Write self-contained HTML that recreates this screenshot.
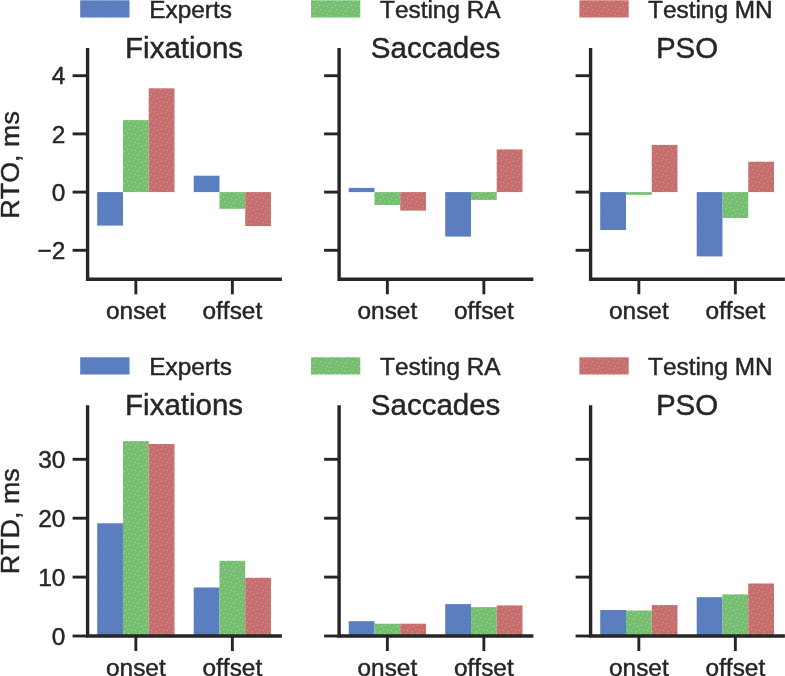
<!DOCTYPE html>
<html lang="en">
<head>
<meta charset="utf-8">
<title>RTO / RTD bar charts</title>
<style>
html,body{margin:0;padding:0;background:#fff;}
body{width:785px;height:676px;overflow:hidden;}
svg{display:block;}
svg text{font-family:"Liberation Sans",sans-serif;fill:#262626;stroke:#262626;stroke-width:0.45px;font-kerning:none;font-feature-settings:"kern" 0;}
</style>
</head>
<body>
<svg width="785" height="676" viewBox="0 0 785 676">
<rect x="0" y="0" width="785" height="676" fill="#ffffff"/>
<defs>
<pattern id="spk" patternUnits="userSpaceOnUse" width="16" height="16">
<g fill="#ffffff">
<rect x="1" y="1" width="1" height="1"/><rect x="5" y="0" width="1" height="1"/><rect x="9" y="3" width="1" height="1"/><rect x="13" y="2" width="1" height="1"/>
<rect x="3" y="5" width="1" height="1"/><rect x="7" y="6" width="1" height="1"/><rect x="12" y="7" width="1" height="1"/><rect x="15" y="5" width="1" height="1"/>
<rect x="0" y="9" width="1" height="1"/><rect x="5" y="10" width="1" height="1"/><rect x="9" y="11" width="1" height="1"/><rect x="11" y="9" width="1" height="1"/>
<rect x="2" y="13" width="1" height="1"/><rect x="7" y="14" width="1" height="1"/><rect x="10" y="15" width="1" height="1"/><rect x="14" y="12" width="1" height="1"/>
</g>
</pattern>
</defs>
<rect x="80.2" y="0.3" width="49.3" height="17.2" fill="#597DBE"/>
<rect x="80.2" y="0.3" width="49.3" height="17.2" fill="url(#spk)" opacity="0.1"/>
<text x="149.2" y="17.6" font-size="24.4">Experts</text>
<rect x="311.0" y="0.3" width="49.3" height="17.2" fill="#76BF72"/>
<rect x="311.0" y="0.3" width="49.3" height="17.2" fill="url(#spk)" opacity="0.38"/>
<text x="380.0" y="17.6" font-size="24.4">Testing RA</text>
<rect x="579.4" y="0.3" width="49.3" height="17.2" fill="#C76E6E"/>
<rect x="579.4" y="0.3" width="49.3" height="17.2" fill="url(#spk)" opacity="0.28"/>
<text x="648.0" y="17.6" font-size="24.4">Testing MN</text>
<rect x="97.22" y="192.10" width="25.75" height="33.50" fill="#597DBE"/>
<rect x="97.22" y="192.10" width="25.75" height="33.50" fill="url(#spk)" opacity="0.1"/>
<rect x="122.97" y="120.10" width="25.75" height="72.00" fill="#76BF72"/>
<rect x="122.97" y="120.10" width="25.75" height="72.00" fill="url(#spk)" opacity="0.38"/>
<rect x="148.72" y="88.30" width="25.75" height="103.80" fill="#C76E6E"/>
<rect x="148.72" y="88.30" width="25.75" height="103.80" fill="url(#spk)" opacity="0.28"/>
<rect x="193.72" y="175.70" width="25.75" height="16.40" fill="#597DBE"/>
<rect x="193.72" y="175.70" width="25.75" height="16.40" fill="url(#spk)" opacity="0.1"/>
<rect x="219.47" y="192.10" width="25.75" height="16.70" fill="#76BF72"/>
<rect x="219.47" y="192.10" width="25.75" height="16.70" fill="url(#spk)" opacity="0.38"/>
<rect x="245.22" y="192.10" width="25.75" height="34.00" fill="#C76E6E"/>
<rect x="245.22" y="192.10" width="25.75" height="34.00" fill="url(#spk)" opacity="0.28"/>
<path d="M87.60 49.80V279.30H280.20" fill="none" stroke="#262626" stroke-width="3.4" stroke-linecap="square"/>
<path d="M72.60 75.70H87.60" stroke="#262626" stroke-width="2.9"/>
<text x="65.30" y="84.40" text-anchor="end" font-size="24.4">4</text>
<path d="M72.60 133.90H87.60" stroke="#262626" stroke-width="2.9"/>
<text x="65.30" y="142.60" text-anchor="end" font-size="24.4">2</text>
<path d="M72.60 192.10H87.60" stroke="#262626" stroke-width="2.9"/>
<text x="65.30" y="200.80" text-anchor="end" font-size="24.4">0</text>
<path d="M72.60 250.30H87.60" stroke="#262626" stroke-width="2.9"/>
<text x="65.30" y="259.00" text-anchor="end" font-size="24.4">−2</text>
<path d="M135.85 279.30V294.30" stroke="#262626" stroke-width="2.9"/>
<text x="135.85" y="319.2" text-anchor="middle" font-size="24.4">onset</text>
<path d="M232.35 279.30V294.30" stroke="#262626" stroke-width="2.9"/>
<text x="232.35" y="319.2" text-anchor="middle" font-size="24.4">offset</text>
<text x="184.10" y="57.8" text-anchor="middle" font-size="29.5">Fixations</text>
<rect x="348.73" y="187.90" width="25.75" height="4.20" fill="#597DBE"/>
<rect x="348.73" y="187.90" width="25.75" height="4.20" fill="url(#spk)" opacity="0.1"/>
<rect x="374.48" y="192.10" width="25.75" height="12.90" fill="#76BF72"/>
<rect x="374.48" y="192.10" width="25.75" height="12.90" fill="url(#spk)" opacity="0.38"/>
<rect x="400.23" y="192.10" width="25.75" height="18.50" fill="#C76E6E"/>
<rect x="400.23" y="192.10" width="25.75" height="18.50" fill="url(#spk)" opacity="0.28"/>
<rect x="445.23" y="192.10" width="25.75" height="44.50" fill="#597DBE"/>
<rect x="445.23" y="192.10" width="25.75" height="44.50" fill="url(#spk)" opacity="0.1"/>
<rect x="470.98" y="192.10" width="25.75" height="7.80" fill="#76BF72"/>
<rect x="470.98" y="192.10" width="25.75" height="7.80" fill="url(#spk)" opacity="0.38"/>
<rect x="496.73" y="149.40" width="25.75" height="42.70" fill="#C76E6E"/>
<rect x="496.73" y="149.40" width="25.75" height="42.70" fill="url(#spk)" opacity="0.28"/>
<path d="M339.10 49.80V279.30H531.70" fill="none" stroke="#262626" stroke-width="3.4" stroke-linecap="square"/>
<path d="M324.10 75.70H339.10" stroke="#262626" stroke-width="2.9"/>
<path d="M324.10 133.90H339.10" stroke="#262626" stroke-width="2.9"/>
<path d="M324.10 192.10H339.10" stroke="#262626" stroke-width="2.9"/>
<path d="M324.10 250.30H339.10" stroke="#262626" stroke-width="2.9"/>
<path d="M387.35 279.30V294.30" stroke="#262626" stroke-width="2.9"/>
<text x="387.35" y="319.2" text-anchor="middle" font-size="24.4">onset</text>
<path d="M483.85 279.30V294.30" stroke="#262626" stroke-width="2.9"/>
<text x="483.85" y="319.2" text-anchor="middle" font-size="24.4">offset</text>
<text x="435.60" y="57.8" text-anchor="middle" font-size="29.5">Saccades</text>
<rect x="600.23" y="192.10" width="25.75" height="37.90" fill="#597DBE"/>
<rect x="600.23" y="192.10" width="25.75" height="37.90" fill="url(#spk)" opacity="0.1"/>
<rect x="625.98" y="192.10" width="25.75" height="2.70" fill="#76BF72"/>
<rect x="625.98" y="192.10" width="25.75" height="2.70" fill="url(#spk)" opacity="0.38"/>
<rect x="651.73" y="144.90" width="25.75" height="47.20" fill="#C76E6E"/>
<rect x="651.73" y="144.90" width="25.75" height="47.20" fill="url(#spk)" opacity="0.28"/>
<rect x="696.73" y="192.10" width="25.75" height="64.30" fill="#597DBE"/>
<rect x="696.73" y="192.10" width="25.75" height="64.30" fill="url(#spk)" opacity="0.1"/>
<rect x="722.48" y="192.10" width="25.75" height="25.90" fill="#76BF72"/>
<rect x="722.48" y="192.10" width="25.75" height="25.90" fill="url(#spk)" opacity="0.38"/>
<rect x="748.23" y="161.70" width="25.75" height="30.40" fill="#C76E6E"/>
<rect x="748.23" y="161.70" width="25.75" height="30.40" fill="url(#spk)" opacity="0.28"/>
<path d="M590.60 49.80V279.30H783.20" fill="none" stroke="#262626" stroke-width="3.4" stroke-linecap="square"/>
<path d="M575.60 75.70H590.60" stroke="#262626" stroke-width="2.9"/>
<path d="M575.60 133.90H590.60" stroke="#262626" stroke-width="2.9"/>
<path d="M575.60 192.10H590.60" stroke="#262626" stroke-width="2.9"/>
<path d="M575.60 250.30H590.60" stroke="#262626" stroke-width="2.9"/>
<path d="M638.85 279.30V294.30" stroke="#262626" stroke-width="2.9"/>
<text x="638.85" y="319.2" text-anchor="middle" font-size="24.4">onset</text>
<path d="M735.35 279.30V294.30" stroke="#262626" stroke-width="2.9"/>
<text x="735.35" y="319.2" text-anchor="middle" font-size="24.4">offset</text>
<text x="687.10" y="57.8" text-anchor="middle" font-size="29.5">PSO</text>
<text transform="translate(19.1 164.90) rotate(-90) scale(1 0.955)" text-anchor="middle" font-size="26.9">RTO, ms</text>
<rect x="80.2" y="357.3" width="49.3" height="17.2" fill="#597DBE"/>
<rect x="80.2" y="357.3" width="49.3" height="17.2" fill="url(#spk)" opacity="0.1"/>
<text x="149.2" y="374.6" font-size="24.4">Experts</text>
<rect x="311.0" y="357.3" width="49.3" height="17.2" fill="#76BF72"/>
<rect x="311.0" y="357.3" width="49.3" height="17.2" fill="url(#spk)" opacity="0.38"/>
<text x="380.0" y="374.6" font-size="24.4">Testing RA</text>
<rect x="579.4" y="357.3" width="49.3" height="17.2" fill="#C76E6E"/>
<rect x="579.4" y="357.3" width="49.3" height="17.2" fill="url(#spk)" opacity="0.28"/>
<text x="648.0" y="374.6" font-size="24.4">Testing MN</text>
<rect x="97.22" y="523.30" width="25.75" height="112.70" fill="#597DBE"/>
<rect x="97.22" y="523.30" width="25.75" height="112.70" fill="url(#spk)" opacity="0.1"/>
<rect x="122.97" y="441.10" width="25.75" height="194.90" fill="#76BF72"/>
<rect x="122.97" y="441.10" width="25.75" height="194.90" fill="url(#spk)" opacity="0.38"/>
<rect x="148.72" y="444.00" width="25.75" height="192.00" fill="#C76E6E"/>
<rect x="148.72" y="444.00" width="25.75" height="192.00" fill="url(#spk)" opacity="0.28"/>
<rect x="193.72" y="587.50" width="25.75" height="48.50" fill="#597DBE"/>
<rect x="193.72" y="587.50" width="25.75" height="48.50" fill="url(#spk)" opacity="0.1"/>
<rect x="219.47" y="560.80" width="25.75" height="75.20" fill="#76BF72"/>
<rect x="219.47" y="560.80" width="25.75" height="75.20" fill="url(#spk)" opacity="0.38"/>
<rect x="245.22" y="577.80" width="25.75" height="58.20" fill="#C76E6E"/>
<rect x="245.22" y="577.80" width="25.75" height="58.20" fill="url(#spk)" opacity="0.28"/>
<path d="M87.60 406.90V636.00H280.20" fill="none" stroke="#262626" stroke-width="3.4" stroke-linecap="square"/>
<path d="M72.60 459.30H87.60" stroke="#262626" stroke-width="2.9"/>
<text x="65.30" y="468.00" text-anchor="end" font-size="24.4">30</text>
<path d="M72.60 518.20H87.60" stroke="#262626" stroke-width="2.9"/>
<text x="65.30" y="526.90" text-anchor="end" font-size="24.4">20</text>
<path d="M72.60 577.10H87.60" stroke="#262626" stroke-width="2.9"/>
<text x="65.30" y="585.80" text-anchor="end" font-size="24.4">10</text>
<path d="M72.60 636.00H87.60" stroke="#262626" stroke-width="2.9"/>
<text x="65.30" y="644.70" text-anchor="end" font-size="24.4">0</text>
<path d="M135.85 636.00V651.00" stroke="#262626" stroke-width="2.9"/>
<text x="135.85" y="675.5" text-anchor="middle" font-size="24.4">onset</text>
<path d="M232.35 636.00V651.00" stroke="#262626" stroke-width="2.9"/>
<text x="232.35" y="675.5" text-anchor="middle" font-size="24.4">offset</text>
<text x="184.10" y="414.7" text-anchor="middle" font-size="29.5">Fixations</text>
<rect x="348.73" y="621.20" width="25.75" height="14.80" fill="#597DBE"/>
<rect x="348.73" y="621.20" width="25.75" height="14.80" fill="url(#spk)" opacity="0.1"/>
<rect x="374.48" y="623.70" width="25.75" height="12.30" fill="#76BF72"/>
<rect x="374.48" y="623.70" width="25.75" height="12.30" fill="url(#spk)" opacity="0.38"/>
<rect x="400.23" y="623.70" width="25.75" height="12.30" fill="#C76E6E"/>
<rect x="400.23" y="623.70" width="25.75" height="12.30" fill="url(#spk)" opacity="0.28"/>
<rect x="445.23" y="604.10" width="25.75" height="31.90" fill="#597DBE"/>
<rect x="445.23" y="604.10" width="25.75" height="31.90" fill="url(#spk)" opacity="0.1"/>
<rect x="470.98" y="607.10" width="25.75" height="28.90" fill="#76BF72"/>
<rect x="470.98" y="607.10" width="25.75" height="28.90" fill="url(#spk)" opacity="0.38"/>
<rect x="496.73" y="605.40" width="25.75" height="30.60" fill="#C76E6E"/>
<rect x="496.73" y="605.40" width="25.75" height="30.60" fill="url(#spk)" opacity="0.28"/>
<path d="M339.10 406.90V636.00H531.70" fill="none" stroke="#262626" stroke-width="3.4" stroke-linecap="square"/>
<path d="M324.10 459.30H339.10" stroke="#262626" stroke-width="2.9"/>
<path d="M324.10 518.20H339.10" stroke="#262626" stroke-width="2.9"/>
<path d="M324.10 577.10H339.10" stroke="#262626" stroke-width="2.9"/>
<path d="M324.10 636.00H339.10" stroke="#262626" stroke-width="2.9"/>
<path d="M387.35 636.00V651.00" stroke="#262626" stroke-width="2.9"/>
<text x="387.35" y="675.5" text-anchor="middle" font-size="24.4">onset</text>
<path d="M483.85 636.00V651.00" stroke="#262626" stroke-width="2.9"/>
<text x="483.85" y="675.5" text-anchor="middle" font-size="24.4">offset</text>
<text x="435.60" y="414.7" text-anchor="middle" font-size="29.5">Saccades</text>
<rect x="600.23" y="610.00" width="25.75" height="26.00" fill="#597DBE"/>
<rect x="600.23" y="610.00" width="25.75" height="26.00" fill="url(#spk)" opacity="0.1"/>
<rect x="625.98" y="610.50" width="25.75" height="25.50" fill="#76BF72"/>
<rect x="625.98" y="610.50" width="25.75" height="25.50" fill="url(#spk)" opacity="0.38"/>
<rect x="651.73" y="605.10" width="25.75" height="30.90" fill="#C76E6E"/>
<rect x="651.73" y="605.10" width="25.75" height="30.90" fill="url(#spk)" opacity="0.28"/>
<rect x="696.73" y="597.20" width="25.75" height="38.80" fill="#597DBE"/>
<rect x="696.73" y="597.20" width="25.75" height="38.80" fill="url(#spk)" opacity="0.1"/>
<rect x="722.48" y="594.40" width="25.75" height="41.60" fill="#76BF72"/>
<rect x="722.48" y="594.40" width="25.75" height="41.60" fill="url(#spk)" opacity="0.38"/>
<rect x="748.23" y="583.50" width="25.75" height="52.50" fill="#C76E6E"/>
<rect x="748.23" y="583.50" width="25.75" height="52.50" fill="url(#spk)" opacity="0.28"/>
<path d="M590.60 406.90V636.00H783.20" fill="none" stroke="#262626" stroke-width="3.4" stroke-linecap="square"/>
<path d="M575.60 459.30H590.60" stroke="#262626" stroke-width="2.9"/>
<path d="M575.60 518.20H590.60" stroke="#262626" stroke-width="2.9"/>
<path d="M575.60 577.10H590.60" stroke="#262626" stroke-width="2.9"/>
<path d="M575.60 636.00H590.60" stroke="#262626" stroke-width="2.9"/>
<path d="M638.85 636.00V651.00" stroke="#262626" stroke-width="2.9"/>
<text x="638.85" y="675.5" text-anchor="middle" font-size="24.4">onset</text>
<path d="M735.35 636.00V651.00" stroke="#262626" stroke-width="2.9"/>
<text x="735.35" y="675.5" text-anchor="middle" font-size="24.4">offset</text>
<text x="687.10" y="414.7" text-anchor="middle" font-size="29.5">PSO</text>
<text transform="translate(19.1 521.30) rotate(-90) scale(1 0.955)" text-anchor="middle" font-size="26.9">RTD, ms</text>
</svg>
</body>
</html>
